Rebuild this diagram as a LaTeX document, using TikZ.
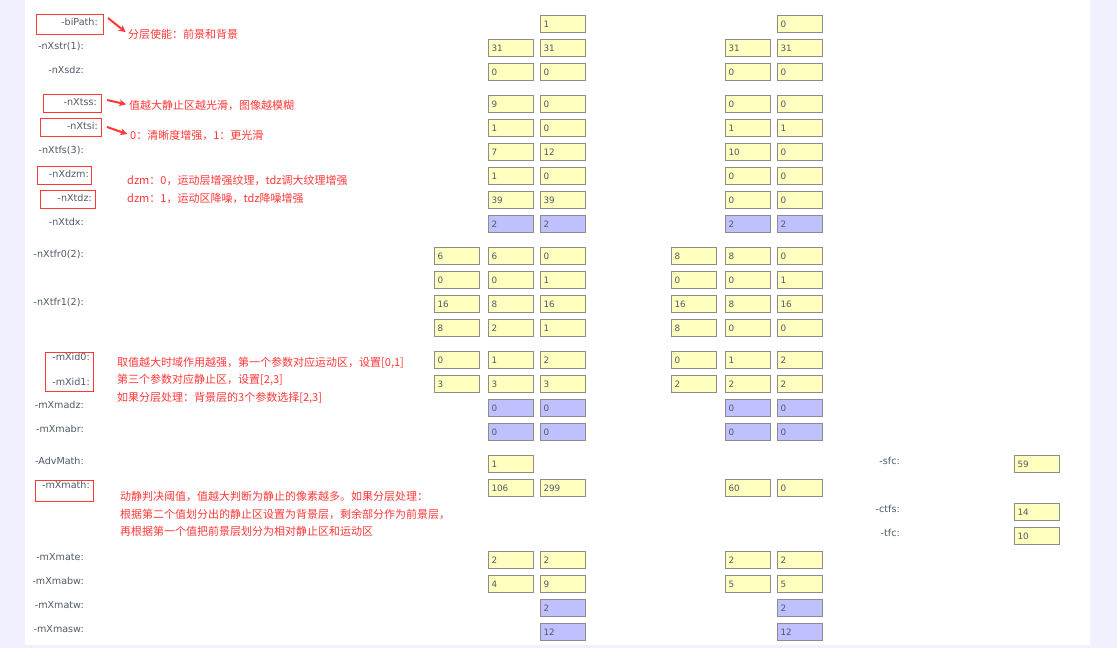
\documentclass[tikz,border=0pt]{standalone}
\usepackage{fontspec}
\setmainfont{DejaVu Sans}
\newfontfamily\cjk{Noto Sans CJK SC}
\usetikzlibrary{arrows.meta}
\definecolor{yb}{HTML}{FFFFC0}
\definecolor{bb}{HTML}{C0C0FF}
\definecolor{rd}{HTML}{FF3838}
\definecolor{tx}{HTML}{505A66}
\newcommand\bx[5]{\node[cell,fill=#4] (#1) at (#2,-#3) {#5};}
\begin{document}
\begin{tikzpicture}[x=1pt,y=1pt,
 cell/.style={draw=black!45,line width=1.1pt,minimum width=45pt,minimum height=17pt,inner sep=3pt,anchor=west,text=tx,font=\fontsize{8.8}{9}\selectfont,align=left,text width=39pt},
 lab/.style={anchor=east,text=tx,font=\fontsize{9.6}{10}\selectfont,inner sep=0pt},
 note/.style={anchor=west,text=rd,font=\cjk\fontsize{11}{17.5}\selectfont,align=left,inner sep=0pt},
 rbox/.style={draw=rd,line width=0.9pt},
 rarr/.style={draw=rd,line width=2pt,shorten >=3pt,-{Stealth[length=7pt,width=7pt]}}]
\useasboundingbox (0,0) rectangle (1117,-648);
\fill[blue!6] (0,0) rectangle (1117,-648);
\fill[white] (25,0) rectangle (1090,-645);
% labels
\foreach \n/\t/\x/\y in {l1/-biPath:/98/22,l2/-nXstr(1):/84/46,l3/-nXsdz:/84/70,l4/-nXtss:/97/102,l5/-nXtsi:/98/126,l6/-nXtfs(3):/84/150,l7/-nXdzm:/89/174,l8/-nXtdz:/92/198,l9/-nXtdx:/84/222,l10/-nXtfr0(2):/84/254,l11/-nXtfr1(2):/84/302,l12/-mXid0:/90/357,l13/-mXid1:/90/382,l14/-mXmadz:/84/405,l15/-mXmabr:/84/429,l16/-AdvMath:/84/461,l17/-mXmath:/90/485,l18/-mXmate:/84/557,l19/-mXmabw:/84/581,l20/-mXmatw:/84/605,l21/-mXmasw:/84/629,l22/-sfc:/900/461,l23/-ctfs:/900/509,l24/-tfc:/900/533}
  \node[lab] (\n) at (\x,-\y) {\t};
% red boxes
\draw[rbox] (36,-14) rectangle (103,-34);
\draw[rbox] (43,-94) rectangle (101,-112);
\draw[rbox] (40,-118) rectangle (101,-136);
\draw[rbox] (37,-166) rectangle (91,-184);
\draw[rbox] (40,-190) rectangle (95,-208);
\draw[rbox] (45,-352) rectangle (93,-391);
\draw[rbox] (35,-480) rectangle (93,-501);
% notes
\node[note] (n1) at (128,-34) {分层使能：前景和背景};
\node[note] (n2) at (129,-105) {值越大静止区越光滑，图像越模糊};
\node[note] (n3) at (130,-135) {0：清晰度增强，1：更光滑};
\node[note] (n4) at (127,-189.5) {dzm：0，运动层增强纹理，tdz调大纹理增强\\dzm：1，运动区降噪，tdz降噪增强};
\node[note] (n5) at (117,-380) {取值越大时域作用越强，第一个参数对应运动区，设置[0,1]\\第三个参数对应静止区，设置[2,3]\\如果分层处理：背景层的3个参数选择[2,3]};
\node[note] (n6) at (120,-514) {动静判决阈值，值越大判断为静止的像素越多。如果分层处理：\\根据第二个值划分出的静止区设置为背景层，剩余部分作为前景层，\\再根据第一个值把前景层划分为相对静止区和运动区};
\coordinate (a1) at (108,-18); \coordinate (a2) at (107,-100); \coordinate (a3) at (107,-127);
\draw[rarr] (a1) -- (n1.west);
\draw[rarr] (a2) -- (n2.west);
\draw[rarr] (a3) -- (n3.west);
% cells: columns 434 488 540 / 671 725 777
\bx{c1}{540}{24}{yb}{1} \bx{d1}{777}{24}{yb}{0}
\bx{c2a}{488}{48}{yb}{31} \bx{c2b}{540}{48}{yb}{31} \bx{d2a}{725}{48}{yb}{31} \bx{d2b}{777}{48}{yb}{31}
\bx{c3a}{488}{72}{yb}{0} \bx{c3b}{540}{72}{yb}{0} \bx{d3a}{725}{72}{yb}{0} \bx{d3b}{777}{72}{yb}{0}
\bx{c4a}{488}{104}{yb}{9} \bx{c4b}{540}{104}{yb}{0} \bx{d4a}{725}{104}{yb}{0} \bx{d4b}{777}{104}{yb}{0}
\bx{c5a}{488}{128}{yb}{1} \bx{c5b}{540}{128}{yb}{0} \bx{d5a}{725}{128}{yb}{1} \bx{d5b}{777}{128}{yb}{1}
\bx{c6a}{488}{152}{yb}{7} \bx{c6b}{540}{152}{yb}{12} \bx{d6a}{725}{152}{yb}{10} \bx{d6b}{777}{152}{yb}{0}
\bx{c7a}{488}{176}{yb}{1} \bx{c7b}{540}{176}{yb}{0} \bx{d7a}{725}{176}{yb}{0} \bx{d7b}{777}{176}{yb}{0}
\bx{c8a}{488}{200}{yb}{39} \bx{c8b}{540}{200}{yb}{39} \bx{d8a}{725}{200}{yb}{0} \bx{d8b}{777}{200}{yb}{0}
\bx{c9a}{488}{224}{bb}{2} \bx{c9b}{540}{224}{bb}{2} \bx{d9a}{725}{224}{bb}{2} \bx{d9b}{777}{224}{bb}{2}
\foreach \r/\y/\a/\b/\c/\d/\e/\f in {10/256/6/6/0/8/8/0,11/280/0/0/1/0/0/1,12/304/16/8/16/16/8/16,13/328/8/2/1/8/0/0,14/360/0/1/2/0/1/2,15/384/3/3/3/2/2/2}{
 \bx{e\r a}{434}{\y}{yb}{\a} \bx{e\r b}{488}{\y}{yb}{\b} \bx{e\r c}{540}{\y}{yb}{\c}
 \bx{f\r a}{671}{\y}{yb}{\d} \bx{f\r b}{725}{\y}{yb}{\e} \bx{f\r c}{777}{\y}{yb}{\f}}
\bx{c16a}{488}{408}{bb}{0} \bx{c16b}{540}{408}{bb}{0} \bx{d16a}{725}{408}{bb}{0} \bx{d16b}{777}{408}{bb}{0}
\bx{c17a}{488}{432}{bb}{0} \bx{c17b}{540}{432}{bb}{0} \bx{d17a}{725}{432}{bb}{0} \bx{d17b}{777}{432}{bb}{0}
\bx{c18}{488}{464}{yb}{1} \bx{g1}{1014}{464}{yb}{59}
\bx{c19a}{488}{488}{yb}{106} \bx{c19b}{540}{488}{yb}{299} \bx{d19a}{725}{488}{yb}{60} \bx{d19b}{777}{488}{yb}{0}
\bx{g2}{1014}{512}{yb}{14} \bx{g3}{1014}{536}{yb}{10}
\bx{c20a}{488}{560}{yb}{2} \bx{c20b}{540}{560}{yb}{2} \bx{d20a}{725}{560}{yb}{2} \bx{d20b}{777}{560}{yb}{2}
\bx{c21a}{488}{584}{yb}{4} \bx{c21b}{540}{584}{yb}{9} \bx{d21a}{725}{584}{yb}{5} \bx{d21b}{777}{584}{yb}{5}
\bx{c22}{540}{608}{bb}{2} \bx{d22}{777}{608}{bb}{2}
\bx{c23}{540}{632}{bb}{12} \bx{d23}{777}{632}{bb}{12}
\end{tikzpicture}
\end{document}
